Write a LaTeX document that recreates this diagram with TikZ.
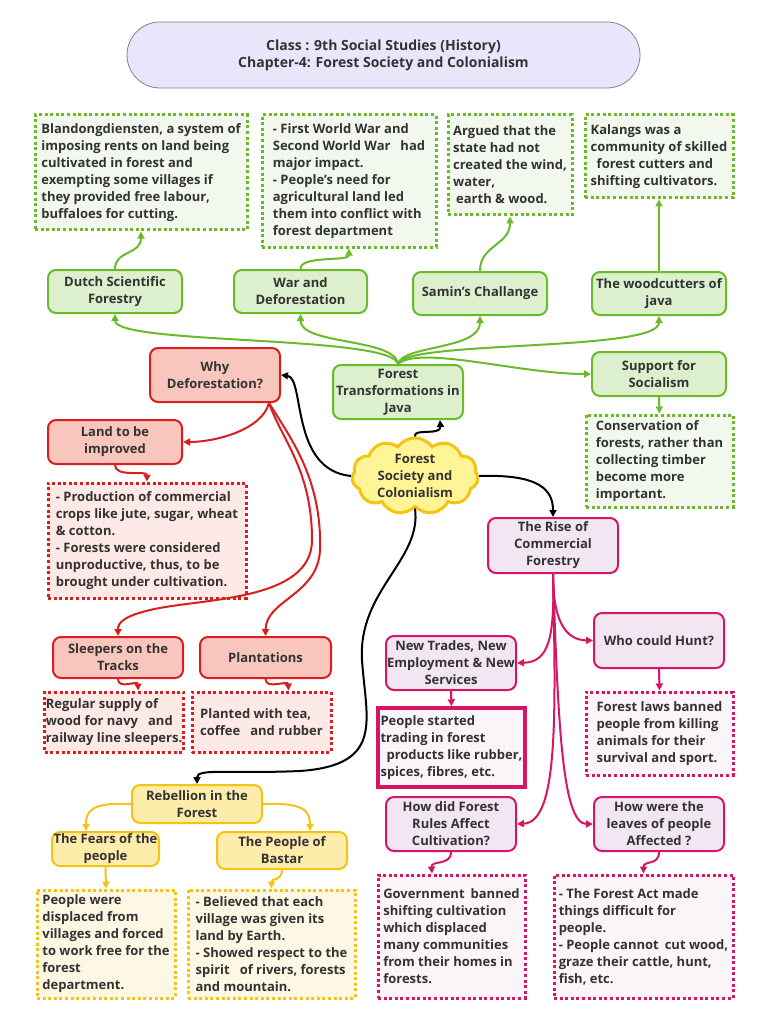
\documentclass[tikz,border=0pt]{standalone}
\usepackage{fontspec}
\setmainfont{Open Sans}
\usetikzlibrary{shapes.symbols,arrows.meta}
\definecolor{txt}{RGB}{51,51,51}
\definecolor{gB}{RGB}{106,186,42}
\definecolor{gF}{RGB}{220,240,205}
\definecolor{gT}{RGB}{242,248,238}
\definecolor{rB}{RGB}{216,30,30}
\definecolor{rF}{RGB}{249,198,189}
\definecolor{rT}{RGB}{253,234,230}
\definecolor{pB}{RGB}{216,20,100}
\definecolor{pF}{RGB}{243,230,243}
\definecolor{pT}{RGB}{251,244,249}
\definecolor{yB}{RGB}{245,195,20}
\definecolor{yF}{RGB}{253,236,170}
\definecolor{yT}{RGB}{253,247,228}
\definecolor{cF}{RGB}{255,245,150}
\definecolor{tF}{RGB}{232,230,250}
\definecolor{tB}{RGB}{130,130,140}
\tikzset{
 base/.style={font=\bfseries\fontsize{13}{17}\selectfont, text=txt, align=center, inner sep=1pt},
 nd/.style={base, line width=2pt, rounded corners=8pt},
 bx/.style={base, align=left, line width=3pt, dash pattern=on 3pt off 2.6pt},
 gnode/.style={nd, draw=gB, fill=gF},
 gbox/.style={bx, draw=gB, fill=gT},
 rnode/.style={nd, draw=rB, fill=rF},
 rbox/.style={bx, draw=rB, fill=rT},
 pnode/.style={nd, draw=pB, fill=pF},
 pbox/.style={bx, draw=pB, fill=pT},
 ynode/.style={nd, draw=yB, fill=yF},
 ybox/.style={bx, draw=yB, fill=yT},
 arr/.style={line width=2pt, -{Triangle[length=7pt,width=7pt]}},
 garr/.style={arr, draw=gB},
 rarr/.style={arr, draw=rB},
 parr/.style={arr, draw=pB},
 yarr/.style={arr, draw=yB},
 karr/.style={arr, draw=black},
}
\begin{document}
\begin{tikzpicture}[x=1pt,y=-1pt]
\useasboundingbox (0,0) rectangle (768,1024);
% title
\node[base, font=\bfseries\fontsize{14}{17}\selectfont, draw=tB, fill=tF, line width=0.8pt, rounded corners=33pt, minimum width=513pt, minimum height=66pt] (title) at (383.5,55) {Class : 9th Social Studies (History)\\Chapter-4: Forest Society and Colonialism};

% green
\node[gbox, minimum width=212pt, minimum height=115pt] (b1) at (141,172.5) {Blandongdiensten, a system of\\imposing rents on land being\\cultivated in forest and\\exempting some villages if\\they provided free labour,\\buffaloes for cutting.};
\node[gbox, minimum width=174pt, minimum height=132pt] (b2) at (349,181) {- First World War and\\Second World War\hspace*{10pt}had\\major impact.\\- People’s need for\\agricultural land led\\them into conflict with\\forest department};
\node[gbox, minimum width=124pt, minimum height=100pt] (b3) at (510,165) {Argued that the\\state had not\\created the wind,\\water,\\\hspace*{3pt}earth \& wood.};
\node[gbox, minimum width=148pt, minimum height=83pt] (b4) at (659,156.5) {Kalangs was a\\community of skilled\\\hspace*{6pt}forest cutters and\\shifting cultivators.};
\node[gnode, minimum width=134pt, minimum height=43pt] (dutch) at (115,291.5) {Dutch Scientific\\Forestry};
\node[gnode, minimum width=133pt, minimum height=43pt] (war) at (300.5,291.5) {War and\\Deforestation};
\node[gnode, minimum width=134pt, minimum height=43pt] (samin) at (480,293.5) {Samin\char39 s Challange};
\node[gnode, minimum width=134pt, minimum height=43pt] (wood) at (659,293.5) {The woodcutters of\\java};
\node[gnode, minimum width=130pt, minimum height=54pt] (ft) at (398,392) {Forest\\Transformations in\\Java};
\node[gnode, minimum width=134pt, minimum height=44pt] (soc) at (659,374) {Support for\\Socialism};
\node[gbox, minimum width=147pt, minimum height=92pt] (cons) at (659.5,461) {Conservation of\\forests, rather than\\collecting timber\\become more\\important.};

% red
\node[rnode, minimum width=130pt, minimum height=54pt] (why) at (215,375) {Why\\Deforestation?};
\node[rnode, minimum width=134pt, minimum height=44pt] (land) at (115,442) {Land to be\\improved};
\node[rbox, minimum width=198pt, minimum height=115pt] (prod) at (147,540.5) {- Production of commercial\\crops like jute, sugar, wheat\\\& cotton.\\- Forests were considered\\unproductive, thus, to be\\brought under cultivation.};
\node[rnode, minimum width=130pt, minimum height=41pt] (sleep) at (118,657.5) {Sleepers on the\\Tracks};
\node[rnode, minimum width=131pt, minimum height=41pt] (plant) at (265.5,657.5) {Plantations};
\node[rbox, minimum width=138pt, minimum height=60pt] (reg) at (114,722) {Regular supply of\\wood for navy\hspace*{10pt}and\\railway line sleepers.};
\node[rbox, minimum width=139pt, minimum height=60pt] (planted) at (261.5,722) {Planted with tea,\\coffee\hspace*{10pt}and rubber};

% cloud
\node[base, cloud, cloud puffs=11, cloud puff arc=110, aspect=1.7, draw=yB, fill=cF, line width=3pt, minimum width=126pt, minimum height=74pt, inner sep=0pt] (fsc) at (415,476) {Forest\\Society and\\Colonialism};

% pink
\node[pnode, minimum width=130pt, minimum height=55pt] (rise) at (553,545.5) {The Rise of\\Commercial\\Forestry};
\node[pnode, minimum width=130pt, minimum height=55pt] (hunt) at (659,640.5) {Who could Hunt?};
\node[pnode, minimum width=130pt, minimum height=54pt] (trades) at (451,663) {New Trades, New\\Employment \& New\\Services};
\node[base, align=left, draw=pB, fill=pT, line width=3.5pt, minimum width=147pt, minimum height=79pt] (ptrade) at (451.5,747.5) {People started\\trading in forest\\\hspace*{6pt}products like rubber,\\spices, fibres, etc.};
\node[pbox, minimum width=147pt, minimum height=83pt] (laws) at (659.5,733.5) {Forest laws banned\\people from killing\\animals for their\\survival and sport.};
\node[pnode, minimum width=130pt, minimum height=54pt] (howdid) at (451,824) {How did Forest\\Rules Affect\\Cultivation?};
\node[pnode, minimum width=130pt, minimum height=54pt] (howwere) at (659,824) {How were the\\leaves of people\\Affected ?};
\node[pbox, minimum width=147pt, minimum height=123pt] (gov) at (451.5,936.5) {Government\hspace*{6pt}banned\\shifting cultivation\\which displaced\\many communities\\from their homes in\\forests.};
\node[pbox, minimum width=179pt, minimum height=123pt] (act) at (643.5,936.5) {- The Forest Act made\\things difficult for\\people.\\- People cannot\hspace*{6pt}cut wood,\\graze their cattle, hunt,\\fish, etc.};

% yellow
\node[ynode, minimum width=130pt, minimum height=38pt] (reb) at (197,804) {Rebellion in the\\Forest};
\node[ynode, minimum width=107pt, minimum height=34pt, inner sep=0pt] (fears) at (105.5,849) {The Fears of the\\people};
\node[ynode, minimum width=130pt, minimum height=37pt] (bastar) at (282,850.5) {The People of\\Bastar};
\node[ybox, minimum width=138pt, minimum height=108pt] (disp) at (106,944) {People were\\displaced from\\villages and forced\\to work free for the\\forest\\department.};
\node[ybox, minimum width=167pt, minimum height=108pt] (bel) at (271.5,944) {- Believed that each\\village was given its\\land by Earth.\\- Showed respect to the\\spirit\hspace*{10pt}of rivers, forests\\and mountain.};

% green connectors
\draw[garr] (dutch.north) .. controls (115,250) and (141,255) .. (b1.south);
\draw[garr] (war.north) .. controls (300,255) and (349,262) .. (b2.south);
\draw[garr] (samin.north) .. controls (480,245) and (510,245) .. (b3.south);
\draw[garr] (wood.north) -- (b4.south);
\draw[garr] (soc.south) -- (cons.north);
\draw[garr] (ft.north) .. controls (392,335) and (115,345) .. (dutch.south);
\draw[garr] (ft.north) .. controls (395,338) and (300.5,345) .. (war.south);
\draw[garr] (ft.north) .. controls (402,345) and (480,350) .. (samin.south);
\draw[garr] (ft.north) .. controls (404,340) and (659,352) .. (wood.south);
\draw[garr] (ft.north) .. controls (420,345) and (520,374) .. (soc.west);

% black connectors
\draw[karr] (fsc.north) .. controls (413,428) and (441,436) .. ([xshift=42pt]ft.south);
\draw[karr] (fsc.west) .. controls (290,470) and (305,378) .. (why.east);
\draw[karr] (fsc.east) .. controls (540,474) and (553,490) .. (rise.north);
\draw[karr] (fsc.south) .. controls (422,560) and (358,590) .. (362,660) .. controls (366,720) and (385,765) .. (300,771) .. controls (230,774) and (197,768) .. (reb.north);

% red connectors
\draw[rarr] ([xshift=-12pt]why.south east) .. controls (262,430) and (215,442) .. (land.east);
\draw[rarr] ([xshift=-12pt]why.south east) .. controls (282,440) and (312,470) .. (312,540) .. controls (312,602) and (200,598) .. (150,610) .. controls (125,616) and (118,622) .. (sleep.north);
\draw[rarr] ([xshift=-12pt]why.south east) .. controls (292,440) and (322,480) .. (320,550) .. controls (318,595) and (266,600) .. (plant.north);
\draw[rarr] (land.south) .. controls (115,478) and (147,470) .. (prod.north);
\draw[rarr] (sleep.south) .. controls (118,690) and (138,680) .. ([xshift=24pt]reg.north);
\draw[rarr] (plant.south) .. controls (265.5,690) and (288,680) .. ([xshift=27pt]planted.north);

% pink connectors
\draw[parr] (rise.south) .. controls (555,640) and (548,662) .. (trades.east);
\draw[parr] (rise.south) .. controls (553,620) and (565,640) .. (hunt.west);
\draw[parr] (rise.south) .. controls (556,720) and (558,822) .. (howdid.east);
\draw[parr] (rise.south) .. controls (558,720) and (562,824) .. (howwere.west);
\draw[parr] (trades.south) -- (ptrade.north);
\draw[parr] (hunt.south) -- (laws.north);
\draw[parr] (howdid.south) .. controls (451,866) and (431,860) .. ([xshift=-19.5pt]gov.north);
\draw[parr] (howwere.south) .. controls (659,866) and (643.5,860) .. (act.north);

% yellow connectors
\draw[yarr] (reb.west) .. controls (90,802) and (86,812) .. ([xshift=-19.5pt]fears.north);
\draw[yarr] (reb.east) .. controls (305,802) and (310,812) .. ([xshift=28pt]bastar.north);
\draw[yarr] (fears.south) -- (disp.north);
\draw[yarr] (bastar.south) .. controls (282,881) and (271.5,878) .. (bel.north);
\end{tikzpicture}
\end{document}
